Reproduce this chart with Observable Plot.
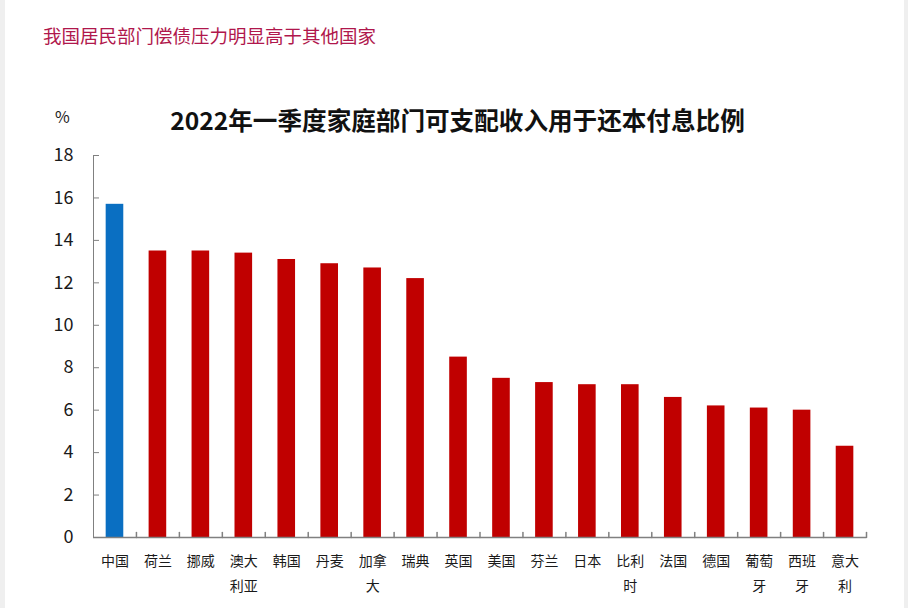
<!DOCTYPE html>
<html><head><meta charset="utf-8">
<script src="https://cdn.jsdelivr.net/npm/d3@7"></script>
<script src="https://cdn.jsdelivr.net/npm/@observablehq/plot@0.6"></script>
<style>
html,body{margin:0;padding:0;background:#efefef;}
#wrap{position:absolute;left:5px;top:0;width:899px;height:608px;background:#fff;overflow:hidden;font-family:"Noto Sans CJK SC",sans-serif;}
#sub{position:absolute;left:38px;top:26px;font-size:18.5px;line-height:18px;color:#b0174c;white-space:nowrap;}
#title{position:absolute;left:3px;width:899px;top:107px;text-align:center;font-size:24.6px;line-height:24px;font-weight:bold;color:#111;white-space:nowrap;}
#unit{position:absolute;left:50px;top:108px;font-size:16px;line-height:16px;color:#222;}
#chart{position:absolute;left:0;top:130px;}
</style></head><body>
<div id="wrap">
<div id="sub">我国居民部门偿债压力明显高于其他国家</div>
<div id="title">2022年一季度家庭部门可支配收入用于还本付息比例</div>
<div id="unit">%</div>
<div id="chart"></div>
</div>
<script>
const countries = ["中国","荷兰","挪威","澳大利亚","韩国","丹麦","加拿大","瑞典","英国","美国","芬兰","日本","比利时","法国","德国","葡萄牙","西班牙","意大利"];
const values = [15.7,13.5,13.5,13.4,13.1,12.9,12.7,12.2,8.5,7.5,7.3,7.2,7.2,6.6,6.2,6.1,6.0,4.3];
const yTicks = [0,2,4,6,8,10,12,14,16,18];
const highlightCountry = "中国";
const colors = {highlight: "#0a6fc2", other: "#c00000", axis: "#808080"};
const data = countries.map((c, i) => ({country: c, value: values[i]}));

const W = 899, H = 478, ML = 88, MR = 38, MT = 25, MB = 71;
const step = (W - ML - MR) / countries.length;
const tickShape = {draw(ctx, l) { ctx.moveTo(0, 0); ctx.lineTo(0, -l); }};

const chart = Plot.plot({
  width: W, height: H,
  marginLeft: ML, marginRight: MR, marginTop: MT, marginBottom: MB,
  style: {fontFamily: '"Noto Sans CJK SC", sans-serif', color: "#1a1a1a", background: "transparent"},
  x: {domain: countries, paddingInner: 0.59, paddingOuter: 0.295, round: false, label: null},
  y: {domain: [0, 18], label: null},
  marks: [
    Plot.barY(data, {x: "country", y: "value", fill: d => d.country === highlightCountry ? colors.highlight : colors.other}),
    Plot.axisY(yTicks, {tickSize: -6, tickPadding: 26, fontSize: 18, stroke: colors.axis, label: null}),
    Plot.axisX({tickSize: 0, tickPadding: 11, fontSize: 14, lineHeight: 1.77,
      tickFormat: d => d.length > 2 ? d.slice(0, 2) + "\n" + d.slice(2) : d, label: null}),
    Plot.vector(countries, {x: d => d, frameAnchor: "bottom", length: 5, anchor: "start", shape: tickShape, dx: step / 2, stroke: colors.axis}),
    Plot.frame({anchor: "left", stroke: colors.axis}),
    Plot.ruleY([0], {stroke: colors.axis, strokeWidth: 1.5})
  ]
});
document.getElementById("chart").appendChild(chart);
</script>
</body></html>
